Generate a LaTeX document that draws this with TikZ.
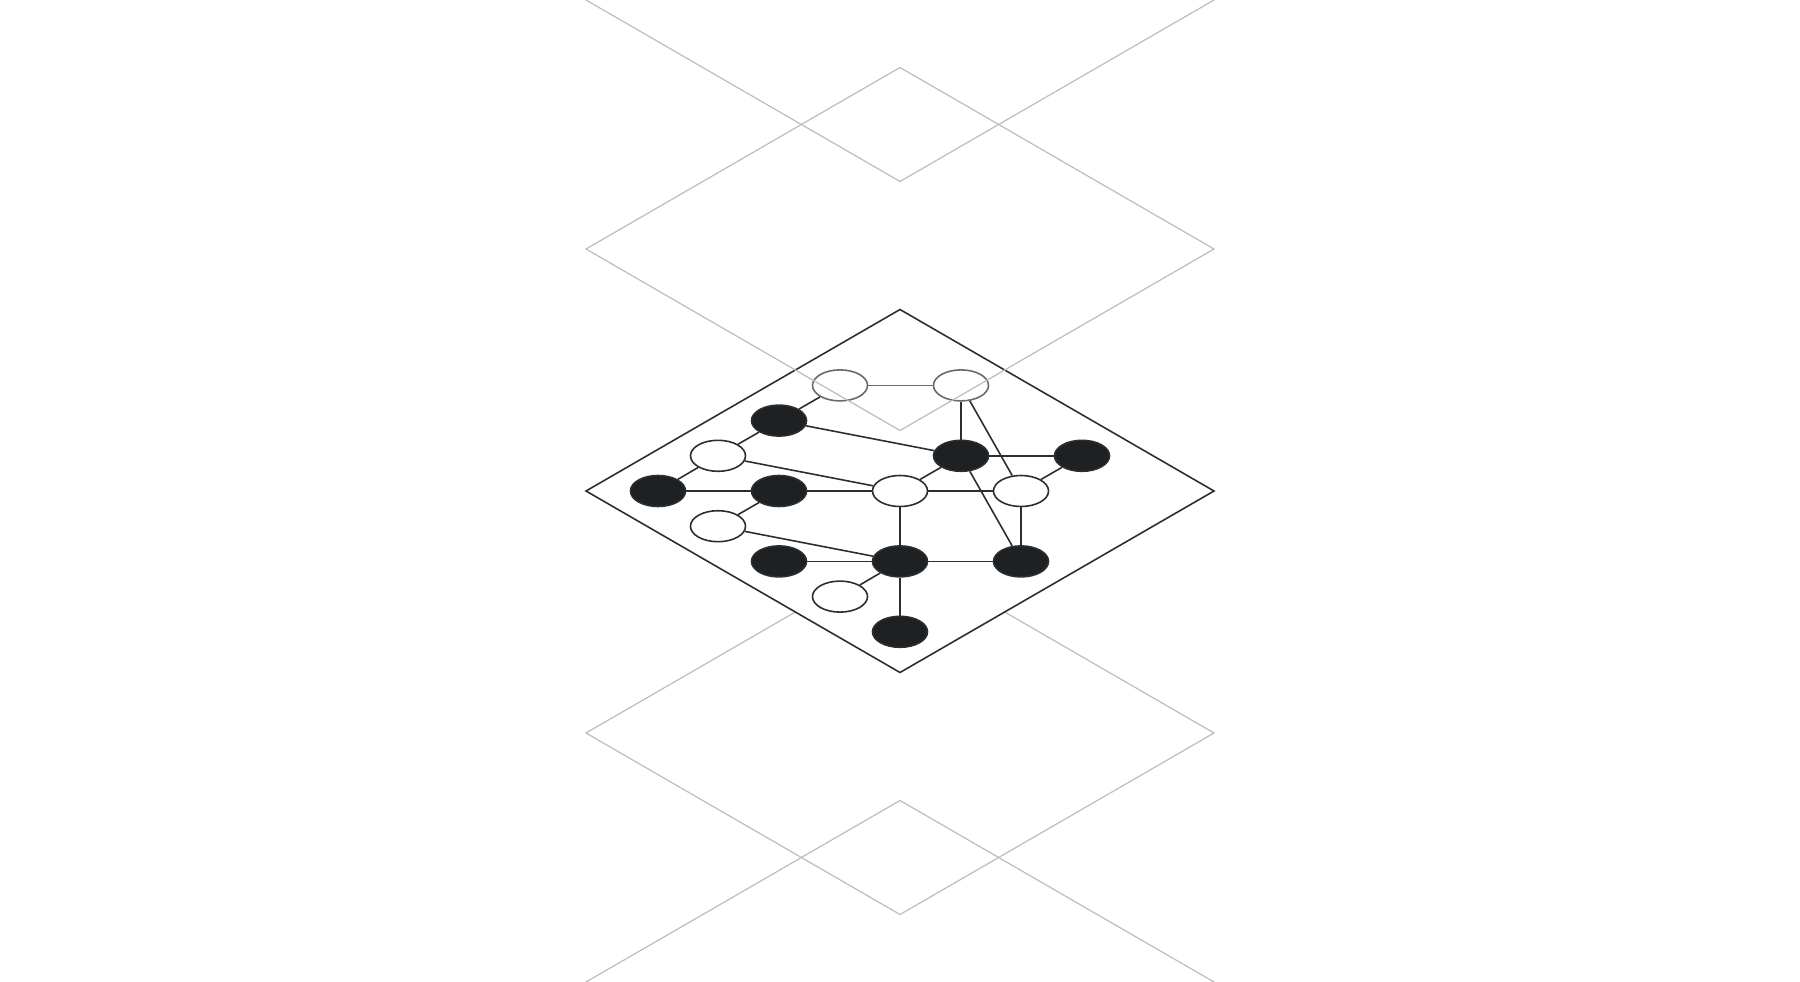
\documentclass[tikz,border=0pt]{standalone}
\usepackage{tikz}
\usetikzlibrary{shapes.geometric}
\definecolor{nodefill}{RGB}{30,33,36}
\definecolor{planegray}{RGB}{190,190,190}
\definecolor{edgedark}{RGB}{45,45,45}
\definecolor{fadegray}{RGB}{105,105,105}

\begin{document}
\begin{tikzpicture}[x=0.01cm,y=-0.01cm,
	every node/.style={ellipse,draw=edgedark,line width=0.45pt,minimum width=0.55cm,minimum height=0.31cm,inner sep=0pt},
	whitenode/.style={fill=white},
	blacknode/.style={fill=nodefill},
	fadenode/.style={fill=white,draw=fadegray},
	link/.style={edgedark,line width=0.45pt},
	plane/.style={planegray,line width=0.35pt}]
	\clip (0,0) rectangle (1800,982);

	% planes below the graph
	\foreach \c in {733,982}
		\draw[plane] (586,\c) -- (900,\c-181.5) -- (1214,\c) -- (900,\c+181.5) -- cycle;
	\draw[link,fill=white] (586,491) -- (900,309.5) -- (1214,491) -- (900,672.5) -- cycle;

	\node (a) at (840,385.4) [fadenode] {};
	\node (b) at (961,385.4) [fadenode] {};
	\node (c) at (779,420.6) [blacknode] {};
	\node (d) at (718,455.8) [whitenode] {};
	\node (e) at (961,455.8) [blacknode] {};
	\node (f) at (1082,455.8) [blacknode] {};
	\node (g) at (658,491) [blacknode] {};
	\node (h) at (779,491) [blacknode] {};
	\node (i) at (900,491) [whitenode] {};
	\node (j) at (1021,491) [whitenode] {};
	\node (k) at (718,526.2) [whitenode] {};
	\node (l) at (779,561.4) [blacknode] {};
	\node (m) at (900,561.4) [blacknode] {};
	\node (n) at (1021,561.4) [blacknode] {};
	\node (o) at (840,596.6) [whitenode] {};
	\node (p) at (900,631.8) [blacknode] {};

	\draw[fadegray,line width=0.45pt] (a) -- (b);
	\foreach \s/\t in {a/c,c/d,c/e,d/g,d/i,g/h,h/i,h/k,i/e,b/e,b/j,e/n,e/f,j/f,i/j,i/m,j/n,k/m,l/m,m/n,m/o,m/p}
		\draw[link] (\s) -- (\t);

	% planes above the graph
	\foreach \c in {0,249}
		\draw[plane] (586,\c) -- (900,\c-181.5) -- (1214,\c) -- (900,\c+181.5) -- cycle;
\end{tikzpicture}
\end{document}
